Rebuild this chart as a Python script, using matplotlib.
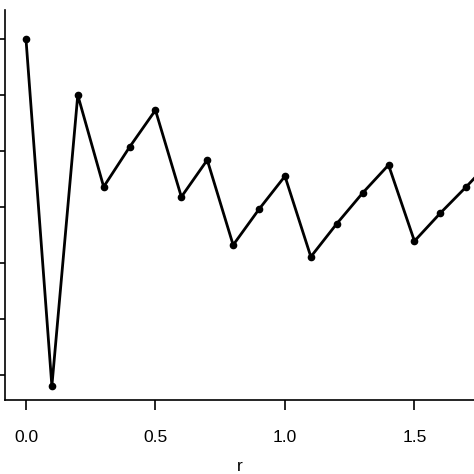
import matplotlib
matplotlib.use("Agg")
import matplotlib.pyplot as plt

plt.rcParams['font.family'] = ['Liberation Sans', 'DejaVu Sans']

r = [0.0, 0.1, 0.2, 0.3, 0.4, 0.5, 0.6, 0.7, 0.8, 0.9, 1.0, 1.1, 1.2, 1.3, 1.4, 1.5, 1.6, 1.7, 1.8]
vals = [6.0, -0.20, 5.0, 3.36, 4.07, 4.73, 3.18, 3.84, 2.32, 2.96, 3.55, 2.11, 2.70,
        3.25, 3.75, 2.39, 2.89, 3.36, 3.85]
xticks = [0.0, 0.5, 1.0, 1.5]
xtick_labels = ["0.0", "0.5", "1.0", "1.5"]
yticks = [0, 1, 2, 3, 4, 5, 6]

fig = plt.figure(figsize=(4.74, 4.74), dpi=100)
ax = fig.add_axes([5 / 474, 1 - 400 / 474, 469 / 474, 390 / 474])
ax.plot(r, vals, color="black", linewidth=2, marker="o", markersize=4.5)
ax.set_xlim(-0.081, 1.73)
ax.set_ylim(-0.45, 6.52)
ax.set_xticks(xticks)
ax.set_xticklabels(xtick_labels, fontsize=12.5)
ax.set_yticks(yticks)
ax.set_yticklabels([])
ax.tick_params(axis="both", direction="out", length=7.5, width=1.2, pad=14)
ax.spines["right"].set_visible(False)
ax.spines["top"].set_visible(False)
for s in ["left", "bottom"]:
    ax.spines[s].set_linewidth(1.2)
ax.set_xlabel("r", fontsize=12.5, labelpad=10)

fig.savefig("out.png", dpi=100)
